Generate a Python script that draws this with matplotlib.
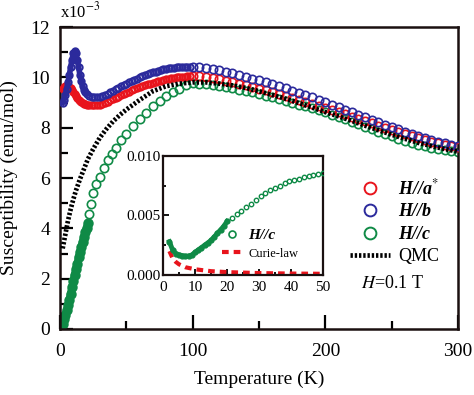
import matplotlib
matplotlib.use("Agg")
import matplotlib.pyplot as plt
from matplotlib.lines import Line2D
from matplotlib.ticker import MultipleLocator, FormatStrFormatter

plt.rcParams['font.family'] = ['Liberation Serif', 'DejaVu Serif']
plt.rcParams['mathtext.fontset'] = 'stix'

# ---------------- data (main panel, units of 1e-3 emu/mol) ----------------
T_rb_low = [2, 3, 4, 5, 6, 7, 8, 9, 10, 11, 12, 13, 14, 15, 16, 17, 18, 19, 20,
            22, 24, 26, 28, 30, 32, 34, 36, 38, 40, 42, 44, 46, 48, 50, 52, 54, 56, 58, 60,
            62, 64, 66, 68, 70, 72, 74, 76, 78, 80, 82, 84, 86, 88, 90, 92, 94, 96, 98]
chi_a_low = [9.55, 9.62, 9.66, 9.68, 9.66, 9.62, 9.56, 9.48, 9.40, 9.32, 9.24, 9.17, 9.11, 9.06,
             9.02, 8.99, 8.96, 8.94, 8.92,
             8.90, 8.89, 8.89, 8.90, 8.92, 8.95, 8.99, 9.03, 9.08, 9.13, 9.18, 9.23, 9.28, 9.33,
             9.38, 9.43, 9.48, 9.52, 9.56, 9.60, 9.64, 9.68, 9.72, 9.75, 9.78, 9.81, 9.84, 9.87,
             9.90, 9.92, 9.94, 9.96, 9.98, 10.00, 10.01, 10.02, 10.03, 10.04, 10.05]
chi_b_low = [9.0, 9.1, 9.3, 9.55, 9.8, 10.1, 10.4, 10.7, 10.95, 11.05, 10.95, 10.7, 10.4, 10.1,
             9.85, 9.65, 9.5, 9.4, 9.33,
             9.27, 9.23, 9.21, 9.21, 9.23, 9.26, 9.30, 9.35, 9.40, 9.46, 9.52, 9.58, 9.64, 9.70,
             9.75, 9.80, 9.85, 9.90, 9.95, 10.00, 10.04, 10.08, 10.12, 10.16, 10.20, 10.23, 10.26,
             10.29, 10.32, 10.34, 10.36, 10.38, 10.39, 10.40, 10.41, 10.42, 10.42, 10.42, 10.42]

T_high = [100, 105, 110, 115, 120, 125, 130, 135, 140, 145, 150, 155, 160, 165, 170, 175, 180,
          185, 190, 195, 200, 205, 210, 215, 220, 225, 230, 235, 240, 245, 250, 255, 260, 265,
          270, 275, 280, 285, 290, 295, 300]
chi_a_high = [10.05, 10.04, 10.01, 9.97, 9.93, 9.87, 9.81, 9.75, 9.68, 9.61, 9.55, 9.48, 9.41,
              9.34, 9.27, 9.19, 9.11, 9.03, 8.95, 8.87, 8.80, 8.71, 8.62, 8.53, 8.44, 8.35, 8.26,
              8.17, 8.08, 7.99, 7.89, 7.81, 7.73, 7.65, 7.57, 7.50, 7.44, 7.38, 7.32, 7.27, 7.22]
chi_b_high = [10.42, 10.40, 10.37, 10.33, 10.28, 10.22, 10.16, 10.09, 10.02, 9.95, 9.88, 9.80,
              9.72, 9.64, 9.56, 9.47, 9.38, 9.29, 9.20, 9.11, 9.02, 8.92, 8.82, 8.72, 8.62, 8.52,
              8.42, 8.32, 8.22, 8.12, 8.02, 7.93, 7.84, 7.75, 7.67, 7.59, 7.52, 7.45, 7.39, 7.33, 7.28]
chi_c_high = [9.76, 9.75, 9.73, 9.70, 9.66, 9.62, 9.57, 9.51, 9.45, 9.40, 9.34, 9.27, 9.20, 9.13,
              9.06, 8.99, 8.92, 8.85, 8.78, 8.70, 8.61, 8.52, 8.43, 8.33, 8.24, 8.14, 8.04, 7.94,
              7.84, 7.74, 7.65, 7.56, 7.48, 7.40, 7.33, 7.26, 7.20, 7.15, 7.10, 7.06, 7.02]

T_c_dense = [2, 3, 4, 5, 6, 7, 8, 9, 10, 11, 12, 13, 14, 15, 16, 17, 18, 19, 20, 21]
chi_c_dense = [0.2, 0.4, 0.55, 0.75, 0.95, 1.15, 1.4, 1.65, 1.9, 2.15, 2.4, 2.6, 2.85, 3.05,
               3.25, 3.45, 3.65, 3.85, 4.0, 4.2]
T_c_mid = [22, 23, 25, 27, 30, 33, 36, 39, 42, 46, 50, 55, 60, 65, 70, 75, 80, 85, 90, 95]
chi_c_mid = [4.55, 4.95, 5.4, 5.75, 6.05, 6.4, 6.7, 6.95, 7.2, 7.5, 7.75, 8.05, 8.35, 8.6,
             8.85, 9.05, 9.25, 9.42, 9.55, 9.68]

T_qmc = [2, 4, 6, 8, 10, 12, 15, 18, 21, 25, 30, 35, 40, 45, 50, 60, 70, 80, 90, 100, 110, 120,
         130, 140, 150, 160, 170, 180, 190, 200, 210, 220, 230, 240, 250, 260, 270, 280, 290, 300]
chi_qmc = [3.2, 3.75, 4.3, 4.75, 5.15, 5.5, 5.95, 6.35, 6.75, 7.15, 7.6, 7.95, 8.25, 8.5, 8.72,
           9.1, 9.45, 9.65, 9.75, 9.8, 9.8, 9.75, 9.68, 9.58, 9.45, 9.3, 9.15, 8.98, 8.8, 8.62,
           8.45, 8.27, 8.08, 7.9, 7.72, 7.56, 7.4, 7.27, 7.15, 7.05]

# ---------------- data (inset, emu/mol) ----------------
T_in_dense = [2, 3, 4, 5, 6, 7, 8, 9, 10, 11, 12, 13, 14, 15, 16, 17, 18, 19, 20]
chi_in_dense = [0.0028, 0.0021, 0.0018, 0.0017, 0.00163, 0.00158, 0.0016, 0.00168, 0.0019,
                0.0021, 0.0023, 0.0025, 0.0027, 0.0029, 0.0032, 0.0035, 0.0038, 0.0041, 0.0045]
T_in_sparse = [21.5, 23, 24.5, 26, 27.5, 29, 30.5, 32, 33.5, 35, 36.5, 38, 39.5, 41, 42.5, 44,
               45.5, 47, 48.5, 50]
chi_in_sparse = [0.0048, 0.0051, 0.0054, 0.0057, 0.0060, 0.0063, 0.0066, 0.0069, 0.0071, 0.0073,
                 0.0075, 0.0077, 0.0079, 0.0080, 0.0081, 0.0082, 0.0083, 0.0084, 0.0085, 0.0086]
T_curie = [2, 3, 4, 5, 7, 10, 15, 20, 30, 40, 50]
chi_curie = [0.0020, 0.0014, 0.0011, 0.0009, 0.00065, 0.00048, 0.00032, 0.00024, 0.00016,
             0.00012, 0.0001]

RED = '#e8141c'
BLUE = '#2b2a9c'
GREEN = '#0f8a46'
QMC_DASH = (0.5, 0.4)

fig = plt.figure(figsize=(4.74, 3.95), dpi=100)
ax = fig.add_axes([0.1266, 0.1671, 0.8396, 0.7645])

msz = 6.0
# H//c
ax.plot(T_c_dense, chi_c_dense, '-', lw=5.5, color=GREEN, solid_capstyle='round', zorder=2)
ax.plot(T_c_dense, chi_c_dense, 'o', ms=6.0, mfc=GREEN, mec=GREEN, mew=1.5, zorder=2)
ax.plot(T_c_mid, chi_c_mid, 'o', ms=msz, mfc='none', mec=GREEN, mew=1.2, zorder=2)
ax.plot(T_high, chi_c_high, 'o', ms=msz, mfc='none', mec=GREEN, mew=1.2, zorder=2)
# H//a*
ax.plot(T_rb_low[:19], chi_a_low[:19], '-', lw=4.0, color=RED, zorder=3)
ax.plot(T_rb_low, chi_a_low, 'o', ms=4.5, mfc='none', mec=RED, mew=1.5, zorder=3)
ax.plot(T_high, chi_a_high, 'o', ms=msz, mfc='none', mec=RED, mew=1.2, zorder=3)
# H//b
ax.plot(T_rb_low[:19], chi_b_low[:19], '-', lw=4.0, color=BLUE, zorder=4)
ax.plot(T_rb_low, chi_b_low, 'o', ms=4.5, mfc='none', mec=BLUE, mew=1.5, zorder=4)
ax.plot(T_high, chi_b_high, 'o', ms=msz, mfc='none', mec=BLUE, mew=1.2, zorder=4)
# QMC
ax.plot(T_qmc, chi_qmc, color='black', lw=3.4, dashes=QMC_DASH, zorder=5)

ax.set_xlim(0, 300)
ax.set_ylim(0, 12)
ax.xaxis.set_major_locator(MultipleLocator(100))
ax.xaxis.set_minor_locator(MultipleLocator(50))
ax.yaxis.set_major_locator(MultipleLocator(2))
ax.yaxis.set_minor_locator(MultipleLocator(1))
ax.tick_params(which='both', direction='in', width=1.6, top=False, right=False, labelsize=14)
ax.tick_params(axis='x', which='major', length=10, pad=10)
ax.tick_params(axis='x', which='minor', length=5.5)
ax.tick_params(axis='y', which='major', length=9, pad=7)
ax.tick_params(axis='y', which='minor', length=6)
for s in ax.spines.values():
    s.set_linewidth(1.8)
    s.set_color('#1a1010')
ax.set_xlabel('Temperature (K)', fontsize=14, labelpad=8)
ax.set_ylabel('Susceptibility (emu/mol)', fontsize=14, labelpad=9)
fig.text(0.127, 0.955, r'x10$^{-3}$', fontsize=12, ha='left', va='baseline')

handles = [
    Line2D([], [], ls='none', marker='o', ms=8.5, mfc='none', mec=RED, mew=1.4),
    Line2D([], [], ls='none', marker='o', ms=8.5, mfc='none', mec=BLUE, mew=1.4),
    Line2D([], [], ls='none', marker='o', ms=8.5, mfc='none', mec=GREEN, mew=1.4),
    Line2D([], [], color='black', lw=3.4, dashes=QMC_DASH),
]
labels = ['H//a$^{*}$', 'H//b', 'H//c', 'QMC']
leg = ax.legend(handles, labels, loc='upper left', bbox_to_anchor=(0.729, 0.5),
                frameon=False, fontsize=13, handlelength=2.2, handletextpad=0.45,
                labelspacing=0.3, borderpad=0, borderaxespad=0)
for t in leg.get_texts()[:3]:
    t.set_fontstyle('italic')
    t.set_fontweight('bold')
ax.text(0.835, 0.15, '$H$=0.1 T', transform=ax.transAxes, fontsize=13, ha='center', va='center')

# ---------------- inset ----------------
ins = fig.add_axes([0.3439, 0.3038, 0.3375, 0.3013])
ins.plot(T_in_dense, chi_in_dense, '-', lw=3.5, color=GREEN, zorder=3)
ins.plot(T_in_dense, chi_in_dense, 'o', ms=3.5, mfc=GREEN, mec=GREEN, mew=1.0, zorder=3)
ins.plot(T_in_sparse, chi_in_sparse, 'o', ms=3.2, mfc='none', mec=GREEN, mew=1.0, zorder=3)
ins.plot(T_curie, chi_curie, color=RED, lw=3.0, dashes=(1.6, 1.2), zorder=2)
ins.set_xlim(0, 50)
ins.set_ylim(0, 0.010)
ins.xaxis.set_major_locator(MultipleLocator(10))
ins.xaxis.set_minor_locator(MultipleLocator(5))
ins.yaxis.set_major_locator(MultipleLocator(0.005))
ins.yaxis.set_minor_locator(MultipleLocator(0.0025))
ins.yaxis.set_major_formatter(FormatStrFormatter('%.3f'))
ins.tick_params(which='both', direction='in', width=1.3, top=False, right=False, labelsize=11)
ins.tick_params(which='major', length=4)
ins.tick_params(which='minor', length=2.5)
ins.tick_params(axis='x', pad=4)
ins.tick_params(axis='y', pad=2)
for s in ins.spines.values():
    s.set_linewidth(1.6)
    s.set_color('#1a1010')

ih = [Line2D([], [], ls='none', marker='o', ms=5, mfc='none', mec=GREEN, mew=1.2),
      Line2D([], [], color=RED, lw=3.0, dashes=(1.6, 1.2))]
il = ins.legend(ih, ['H//c', 'Curie-law'], loc='upper left', bbox_to_anchor=(0.37, 0.385),
                frameon=False, fontsize=10, handlelength=1.4, handletextpad=0.5,
                labelspacing=0.35, borderpad=0, borderaxespad=0)
il.get_texts()[0].set_fontstyle('italic')
il.get_texts()[0].set_fontweight('bold')
il.get_texts()[0].set_fontsize(11)
il.get_texts()[1].set_fontsize(9)

fig.savefig('out.png', dpi=100)
